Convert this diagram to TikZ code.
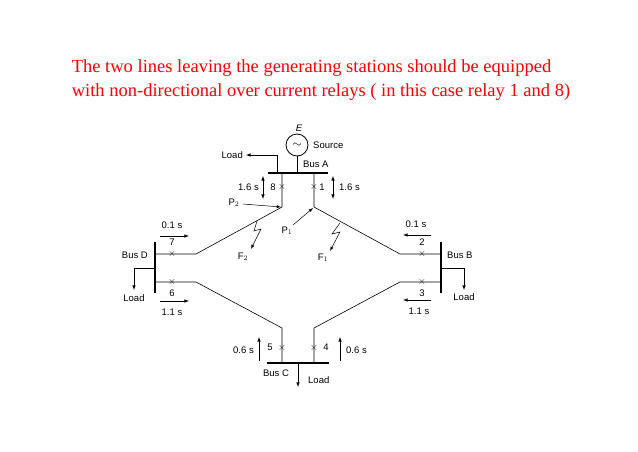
\documentclass[tikz,border=0pt]{standalone}
\usepackage{fontspec}
\setmainfont{Liberation Serif}
\setsansfont{Liberation Sans}
\begin{document}
\begin{tikzpicture}[x=1pt,y=-1pt,
  lbl/.style={font=\sffamily\fontsize{9.5}{10}\selectfont,inner sep=0pt},
  ln/.style={line width=0.6pt},
  bus/.style={line width=2.2pt},
  arr/.style={-latex,line width=0.6pt},
  brk/.style={font=\sffamily\fontsize{10}{10}\selectfont,inner sep=0pt}]
\useasboundingbox (0,0) rectangle (638,451);
\node[text=red,font=\fontsize{18.5}{24}\selectfont,align=left] (t) at (321,80) {The two lines leaving the generating stations should be equipped\\with non-directional over current relays ( in this case relay 1 and 8)};
% generator
\node[circle,draw,line width=0.8pt,minimum size=22pt,inner sep=0pt] (g) at (297,145) {\large$\sim$};
\node[lbl] (e) at (299,128) {\itshape E};
\node[lbl,anchor=west] (src) at (313,145) {Source};
% buses
\coordinate (a1) at (268,173); \coordinate (a2) at (328,173);
\draw[bus] (a1) -- (a2);
\node[lbl,anchor=west] (ba) at (303,164) {Bus A};
\draw[ln] (g.south) -- (297,173);
\draw[ln] (277,173) -- (277,155); \draw[arr] (277,155) -- (246,155);
\node[lbl,anchor=east] (la) at (243,155) {Load};
\coordinate (d1) at (155,242); \coordinate (d2) at (155,293);
\draw[bus] (d1) -- (d2);
\node[lbl,anchor=east] (bd) at (148,255) {Bus D};
\coordinate (b1) at (441,242); \coordinate (b2) at (441,293);
\draw[bus] (b1) -- (b2);
\node[lbl,anchor=west] (bb) at (447,255) {Bus B};
\coordinate (c1) at (267,363); \coordinate (c2) at (329,363);
\draw[bus] (c1) -- (c2);
\node[lbl] (bc) at (276,373) {Bus C};
\draw[arr] (298,363) -- (298,387);
\node[lbl,anchor=west] (lc) at (308,380) {Load};
% loads D and B
\draw[ln] (155,268) -- (134,268); \draw[arr] (134,268) -- (134,290);
\node[lbl] (ld) at (134,298) {Load};
\draw[ln] (441,268) -- (464,268); \draw[arr] (464,268) -- (464,290);
\node[lbl] (lb) at (464,297) {Load};
% lines
\draw[ln] (282,173) -- (282,207) -- (196,254) -- (155,254);
\draw[ln] (314,173) -- (314,207) -- (400,254) -- (441,254);
\draw[ln] (155,282) -- (196,282) -- (282,328) -- (282,363);
\draw[ln] (441,282) -- (400,282) -- (314,328) -- (314,363);
% breakers
\foreach \n/\x/\y in {8/282/187,1/314/187,7/172/254,6/172/282,2/422/254,3/422/282,5/282/348,4/314/348}
  \node[brk] (cb\n) at (\x,\y) {$\times$};
\node[lbl] (n8) at (273,187) {8};
\node[lbl] (n1) at (322,187) {1};
\node[lbl] (n7) at (172,242.5) {7};
\node[lbl] (n6) at (172,293.5) {6};
\node[lbl] (n2) at (422,242.5) {2};
\node[lbl] (n3) at (422,293.5) {3};
\node[lbl] (n5) at (270,347) {5};
\node[lbl] (n4) at (326,347) {4};
% times
\draw[latex-latex,line width=0.6pt] (263,176) -- (263,199);
\node[lbl,anchor=east] (t8) at (259,187) {1.6 s};
\draw[latex-latex,line width=0.6pt] (333,176) -- (333,199);
\node[lbl,anchor=west] (t1) at (339,187) {1.6 s};
\node[lbl] (t7) at (172,225) {0.1 s}; \draw[arr] (160,236) -- (189,236);
\node[lbl] (t6) at (172,312) {1.1 s}; \draw[arr] (160,301) -- (189,301);
\node[lbl] (t2) at (416,224) {0.1 s}; \draw[arr] (431,235) -- (403,235);
\node[lbl] (t3) at (419,311) {1.1 s}; \draw[arr] (431,300) -- (403,300);
\draw[arr] (259,361) -- (259,337);
\node[lbl,anchor=east] (t5) at (254,350) {0.6 s};
\draw[arr] (340,361) -- (340,337);
\node[lbl,anchor=west] (t4) at (346,350) {0.6 s};
% P labels
\node[lbl] (p2) at (234,203) {P$_2$};
\draw[-latex,line width=0.5pt] (243,204) -- (281,207);
\node[lbl] (p1) at (287,231) {P$_1$};
\draw[-latex,line width=0.5pt] (293,225) -- (313,208);
% faults
\draw[-latex,line width=0.5pt] (257,221) -- (254,231) -- (261,229) -- (251,249);
\node[lbl] (f2) at (243,257) {F$_2$};
\draw[-latex,line width=0.5pt] (340,223) -- (332,234) -- (340,232) -- (330,251);
\node[lbl] (f1) at (323,258) {F$_1$};
\end{tikzpicture}
\end{document}
